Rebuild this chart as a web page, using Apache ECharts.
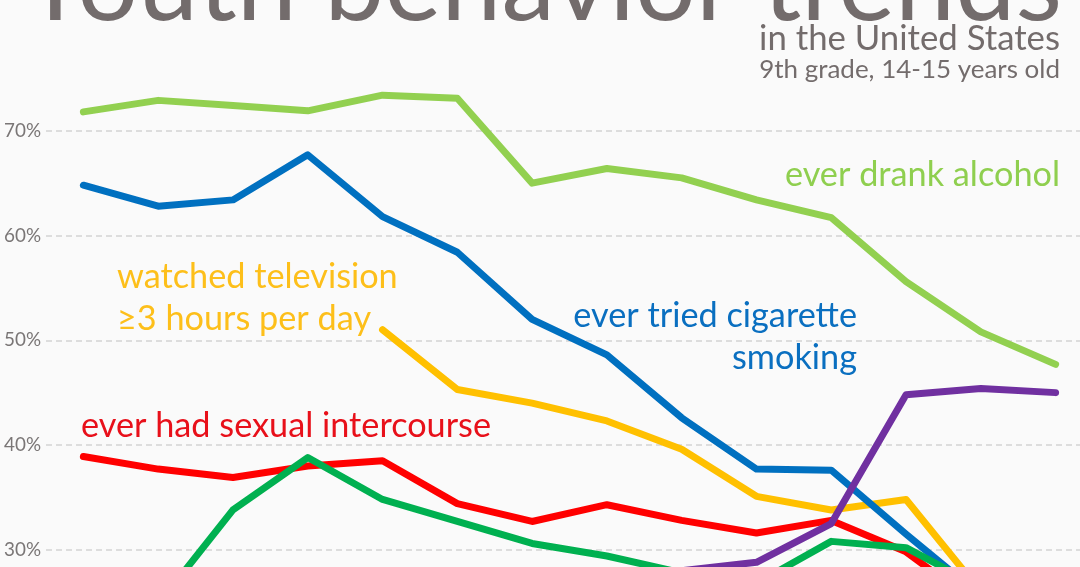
<!DOCTYPE html>
<html>
<head>
<meta charset="utf-8">
<script src="https://cdn.jsdelivr.net/npm/echarts@6/dist/echarts.min.js"></script>
<style>
html,body{margin:0;padding:0;background:#fafafa;}
#chart{width:1080px;height:567px;}
</style>
</head>
<body>
<div id="chart"></div>
<script>
// ---- data ----
const years = [1991, 1993, 1995, 1997, 1999, 2001, 2003, 2005, 2007, 2009, 2011, 2013, 2015, 2017];
const everDrankAlcohol = [71.8, 72.9, 72.4, 71.9, 73.4, 73.1, 65.0, 66.4, 65.5, 63.4, 61.7, 55.6, 50.8, 47.7];
const everTriedCigarette = [64.8, 62.8, 63.4, 67.7, 61.8, 58.4, 52.0, 48.6, 42.6, 37.7, 37.6, 31.5, 25.6, 21.0];
const watchedTV = [null, null, null, null, 51.0, 45.3, 44.0, 42.3, 39.6, 35.1, 33.8, 34.8, 26.0, 23.0];
const everSex = [38.9, 37.7, 36.9, 38.0, 38.5, 34.4, 32.7, 34.3, 32.8, 31.6, 32.8, 29.8, 24.5, 20.5];
const greenSeries = [23.0, 24.8, 33.8, 38.8, 34.8, 32.7, 30.6, 29.4, 27.8, 26.8, 30.8, 30.2, 26.4, 25.0];
const purpleSeries = [null, null, null, null, null, null, 22.1, 21.5, 28.0, 28.8, 32.5, 44.8, 45.4, 45.0];
const yTicks = [0, 10, 20, 30, 40, 50, 60, 70, 80];

const titleText = 'Youth behavior trends';
const subtitle1 = 'in the United States';
const subtitle2 = '9th grade, 14-15 years old';
const labelAlcohol = 'ever drank alcohol';
const labelTV = ['watched television', '\u22653 hours per day'];
const labelCig = ['ever tried cigarette', 'smoking'];
const labelSex = 'ever had sexual intercourse';

// ---- helpers ----
const FONT = 'Lato, "Noto Sans", sans-serif';
const mctx = document.createElement('canvas').getContext('2d');
function fitSize(text, width) {
  mctx.font = '100px ' + FONT;
  return 100 * width / mctx.measureText(text).width;
}
function baseOff(size) {
  mctx.font = size + 'px ' + FONT;
  mctx.textBaseline = 'middle';
  const a1 = mctx.measureText('Hg').fontBoundingBoxAscent;
  mctx.textBaseline = 'alphabetic';
  const a2 = mctx.measureText('Hg').fontBoundingBoxAscent;
  return a2 - a1;
}
function txt(text, x, baseline, size, align, color) {
  return {
    type: 'text', silent: true, z: 100,
    style: {
      text: text, x: x, y: baseline - baseOff(size),
      align: align, verticalAlign: 'middle',
      font: 'normal ' + size + 'px ' + FONT, fill: color
    }
  };
}
function pairs(arr) {
  const out = [];
  arr.forEach((v, i) => { if (v !== null) out.push([years[i], v]); });
  return out;
}

const GRAY = '#736c6c';
const sTitle = fitSize('outh behavior trends', 985);
const sSub1 = fitSize(subtitle1, 301);
const sSub2 = fitSize(subtitle2, 301);
const sLab = fitSize(labelSex, 410);
const sTick = fitSize('70%', 37);

const chart = echarts.init(document.getElementById('chart'));
const lineBase = (name, arr, color, z) => ({
  name: name, type: 'line', data: pairs(arr), showSymbol: false, z: z,
  lineStyle: { color: color, width: 7, cap: 'round', join: 'round' },
  itemStyle: { color: color }
});

chart.setOption({
  animation: false,
  backgroundColor: '#fafafa',
  grid: { left: 46, top: 26, width: 1047, height: 838, containLabel: false, outerBoundsMode: 'none' },
  xAxis: {
    type: 'value', min: 1990, max: 2018, show: false,
    splitLine: { show: false }
  },
  yAxis: {
    type: 'value', min: yTicks[0], max: yTicks[yTicks.length - 1], interval: 10,
    axisLine: { show: false }, axisTick: { show: false },
    axisLabel: {
      formatter: '{value}%', color: '#7a7676', fontSize: Math.min(sTick, 19), margin: 5,
      fontFamily: FONT, showMaxLabel: false
    },
    splitLine: {
      show: true, showMaxLine: false,
      lineStyle: { color: '#d4d4d4', width: 1.5, type: [6, 4] }
    }
  },
  series: [
    lineBase('ever drank alcohol', everDrankAlcohol, '#92d050', 2),
    lineBase('ever had sexual intercourse', everSex, '#ff0000', 3),
    lineBase('watched television', watchedTV, '#ffc000', 4),
    lineBase('ever tried cigarette smoking', everTriedCigarette, '#0070c0', 5),
    lineBase('green', greenSeries, '#00b050', 6),
    lineBase('purple', purpleSeries, '#7030a0', 7)
  ],
  graphic: [
    txt(titleText, 1062, 20, sTitle, 'right', GRAY),
    txt(subtitle1, 1060, 50, sSub1, 'right', GRAY),
    txt(subtitle2, 1060, 78, sSub2, 'right', GRAY),
    txt(labelAlcohol, 1060, 186, sLab, 'right', '#8fcf4f'),
    txt(labelTV[0], 117, 288, sLab, 'left', '#fdbf1a'),
    txt(labelTV[1], 117, 330, sLab, 'left', '#fdbf1a'),
    txt(labelCig[0], 857, 327, sLab, 'right', '#0a6fc0'),
    txt(labelCig[1], 857, 369, sLab, 'right', '#0a6fc0'),
    txt(labelSex, 81, 437, sLab, 'left', '#e8101a')
  ]
});
</script>
</body>
</html>
